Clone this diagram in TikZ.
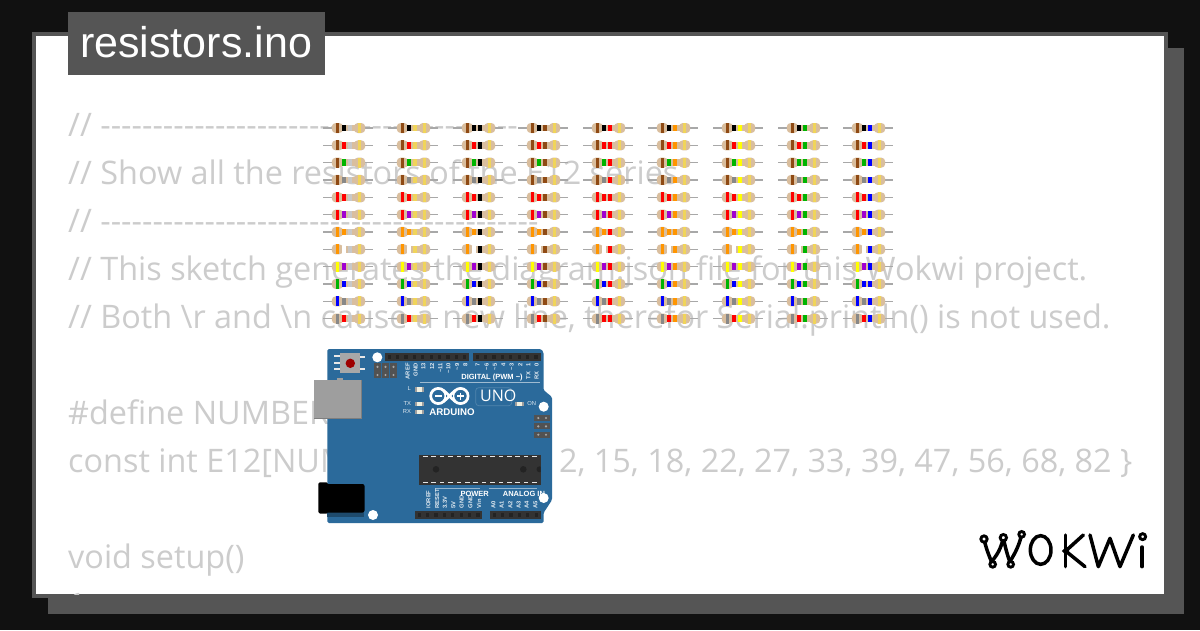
\documentclass[tikz,border=0pt]{standalone}
\usepackage{fontspec}
\newfontfamily\codefont{Open Sans}
\newfontfamily\boardfont{Liberation Sans}
\usetikzlibrary{calc}
\definecolor{bgdark}{HTML}{111111}
\definecolor{cardgray}{HTML}{555555}
\definecolor{codegray}{HTML}{CCCCCC}
\definecolor{resbody}{HTML}{D9BE9E}
\definecolor{lead}{HTML}{A8A8A8}
\definecolor{bBrown}{HTML}{8F4A14}
\definecolor{bBlack}{HTML}{000000}
\definecolor{bRed}{HTML}{FF0000}
\definecolor{bOrange}{HTML}{FF9500}
\definecolor{bYellow}{HTML}{FFFF00}
\definecolor{bGreen}{HTML}{00B400}
\definecolor{bBlue}{HTML}{0000FF}
\definecolor{bViolet}{HTML}{A000D0}
\definecolor{bGray}{HTML}{888888}
\definecolor{bWhite}{HTML}{FFFFFF}
\definecolor{bSilver}{HTML}{C8C8C8}
\definecolor{bGold}{HTML}{F0D45A}
\definecolor{boardblue}{HTML}{2B6A9B}
\definecolor{headerdark}{HTML}{333333}
\definecolor{pindark}{HTML}{232323}
\definecolor{usbgray}{HTML}{9E9E9E}
\definecolor{usbedge}{HTML}{7E7E7E}
\definecolor{ledcream}{HTML}{F2F0E0}
\tikzset{
 codeline/.style={anchor=base west,inner sep=0pt,text=codegray,font=\codefont\fontsize{32.4}{38}\selectfont},
 pinlab/.style={inner sep=0pt,text=white,font=\boardfont\bfseries\fontsize{5.8}{6}\selectfont,opacity=.88},
 uplab/.style={pinlab,rotate=90},
 headlab/.style={inner sep=0pt,text=white,font=\boardfont\bfseries\fontsize{7.5}{8}\selectfont},
 ledlab/.style={inner sep=0pt,text=white,font=\boardfont\fontsize{5.8}{6}\selectfont,opacity=.85},
 logoline/.style={line width=3.5pt,line cap=round,line join=round,draw=black},
 logodot/.style={line width=2.9pt,draw=black,fill=white},
}
\newcommand{\ledmark}[2]{%
 \fill[usbgray] (#1-.8,#2-2.2) rectangle (#1+8.6,#2+2.2);
 \fill[ledcream] (#1+1.2,#2-2.2) rectangle (#1+6.6,#2+2.2);}
\begin{document}
\begin{tikzpicture}[x=1pt,y=-1pt]
\useasboundingbox (0,0) rectangle (1200,630);
\fill[bgdark] (0,0) rectangle (1200,630);
\fill[cardgray] (48,48) rectangle (1184,614);
\fill[cardgray] (32,32) rectangle (1168,598);
\fill[white] (36,36) rectangle (1164,594);
% code text, clipped by the card
\begin{scope}
\clip (36,36) rectangle (1164,594);
\node[codeline] (l1) at (68,136) {// ----------------------------------------};
\node[codeline] (l2) at (68,184) {// Show all the resistors of the E12 series};
\node[codeline] (l3) at (68,232) {// ------------------------------------------};
\node[codeline] (l4) at (68,280) {// This sketch generates the diagram.json file for this Wokwi project.};
\node[codeline] (l5) at (68,328) {// Both \textbackslash r and \textbackslash n cause a new line, therefor Serial.println() is not used.};
\node[codeline] (l6) at (68,424) {\#define NUMBER 12};
\node[codeline] (l7) at (68,472) {const int E12[NUMBER]\hspace{12pt} = \{ 10, 12, 15, 18, 22, 27, 33, 39, 47, 56, 68, 82 \}};
\node[codeline] (l8) at (68,568) {void setup()};
\node[codeline] (l9) at (68,616) {\{};
\end{scope}
% title tab
\fill[cardgray] (68,12) rectangle (325,75);
\node[anchor=base west,inner sep=0pt,text=white,font=\boardfont\fontsize{43}{46}\selectfont] (title) at (80,57) {resistors.ino};
% resistors
\foreach \cx/\bc in {348/bSilver,413/bGold,478/bBlack,543/bBrown,608/bRed,673/bOrange,738/bYellow,803/bGreen,868/bBlue}{
 \foreach \ry/\ba/\bb in {0/bBrown/bBlack,1/bBrown/bRed,2/bBrown/bGreen,3/bBrown/bGray,4/bRed/bRed,5/bRed/bViolet,6/bOrange/bOrange,7/bOrange/bWhite,8/bYellow/bViolet,9/bGreen/bBlue,10/bBlue/bGray,11/bGray/bRed}{
  \pgfmathsetmacro{\cy}{128+17.33*\ry}
  \begin{scope}[shift={(\cx,\cy)}]
   \draw[lead,line width=1.5pt] (-25,0) -- (25,0);
   \fill[resbody,rounded corners=3.8pt] (-16.2,-5) rectangle (-5,5);
   \fill[resbody,rounded corners=3.8pt] (6,-5) rectangle (17.2,5);
   \fill[resbody] (-7,-3.4) rectangle (8,3.4);
   \fill[\ba] (-12.3,-4.9) rectangle (-8.6,4.9);
   \fill[\bb] (-6,-3.4) rectangle (-2.3,3.4);
   \fill[\bc] (0,-3.4) rectangle (3.7,3.4);
   \fill[bGold] (9.7,-4.9) rectangle (13.3,4.9);
  \end{scope}
 }
}
% board
\fill[boardblue,rounded corners=1.5pt] (327.3,349) -- (541,349) -- (543.5,352) -- (543.5,390) -- (552,397) -- (552,500) -- (543.5,513) -- (543.5,523) -- (327.3,523) -- cycle;
\fill[white] (377.3,357.3) circle (5);
\fill[white] (543.7,406.7) circle (5);
\fill[white] (373,515) circle (5);
\fill[white] (543.7,498) circle (5);
% headers
\fill[headerdark] (385,353.3) rectangle (469,360.7);
\fill[headerdark] (473,353.3) rectangle (540.7,360.7);
\fill[headerdark] (415,511) rectangle (482.3,519);
\fill[headerdark] (490,511) rectangle (540.7,519);
\foreach \i in {0,...,9}{\fill[pindark] (389.2+8.4*\i-1.6,355.4) rectangle ++(3.2,3.2);}
\foreach \i in {0,...,7}{\fill[pindark] (477.2+8.4*\i-1.6,355.4) rectangle ++(3.2,3.2);}
\foreach \i in {0,...,7}{\fill[pindark] (419.2+8.4*\i-1.6,513.4) rectangle ++(3.2,3.2);}
\foreach \i in {0,...,5}{\fill[pindark] (494.2+8.4*\i-1.6,513.4) rectangle ++(3.2,3.2);}
% ICSP
\foreach \i in {0,1,2}{
 \fill[headerdark!85!white] (374.3+8*\i,363.3) rectangle ++(6.4,15);
 \fill[lead] (377.5+8*\i,366.8) circle (1.2);
 \fill[lead] (377.5+8*\i,375) circle (1.2);
 \fill[headerdark!85!white] (534,415+8.35*\i) rectangle ++(16,6);
 \fill[lead] (538.3,418+8.35*\i) circle (1.2);
 \fill[lead] (546,418+8.35*\i) circle (1.2);
}
% reset
\foreach \yy in {356,362.5,369}{\fill[white!82!gray] (334,\yy-1) rectangle (340,\yy+1);}
\foreach \yy in {356.8,369}{\fill[white!82!gray] (360,\yy-1) rectangle (365,\yy+1);}
\fill[usbgray!90!white] (340,353.3) rectangle (360,373.3);
\fill[red!62!black] (350.3,363.3) circle (4.7);
% usb
\fill[usbgray] (337,377.5) rectangle (343,382);
\fill[usbedge] (314,380) rectangle (362,419);
\fill[usbgray] (314,380) rectangle (361,418);
% jack
\fill[boardblue!70!black] (327.3,505) rectangle (364,517);
\fill[black,rounded corners=1.5pt] (318.3,482.3) rectangle (328,513.5);
\fill[black,rounded corners=2pt] (326,484) rectangle (364.5,512.5);
% chip
\fill[headerdark] (419,455) rectangle (540.7,485);
\foreach \i in {0,...,13}{
 \fill[white!80!gray] (423+8.4*\i,456) rectangle ++(4.6,1.4);
 \fill[white!80!gray] (423+8.4*\i,482) rectangle ++(4.6,1.4);
}
\fill[pindark] (436,469.3) circle (3.3);
\fill[pindark] (523.3,469.3) circle (3.3);
\begin{scope}
 \clip (419,455) rectangle (540.7,485);
 \fill[pindark] (539.5,469.3) circle (3);
\end{scope}
% top labels
\foreach \xx/\tt in {407.7/AREF,415.7/GND,423.3/13,432/12,440.3/\textasciitilde11,448.3/\textasciitilde10,457/\textasciitilde9,465.3/8,477.7/7,486.7/\textasciitilde6,495/\textasciitilde5,503.3/4,511.7/\textasciitilde3,520.3/2,528.3/1,536.7/0}{
 \node[uplab,anchor=east] at (\xx,363.2) {\tt};
}
\node[uplab,anchor=east] (txl) at (528.3,371.5) {TX};
\node[uplab,anchor=east] (rxl) at (536.7,371.5) {RX};
\node[headlab,anchor=center] (dig) at (492,377.8) {DIGITAL (PWM \textasciitilde)};
\draw[white,opacity=.55,line width=.9pt] (420,382.4) -- (540,382.4);
% leds
\node[ledlab] (lL) at (409.3,388.5) {L};
\node[ledlab] (lT) at (407.3,403.4) {TX};
\node[ledlab] (lR) at (407,411.4) {RX};
\node[ledlab] (lO) at (531.7,403.8) {ON};
\ledmark{415.6}{389.5}
\ledmark{415.6}{404}
\ledmark{415.6}{411.7}
\ledmark{515.6}{404}
% logo
\draw[boardblue!82!white,line width=.7pt,rounded corners=3pt] (475.7,387.7) rectangle (511.7,405.7);
\node[inner sep=0pt,text=white,font=\codefont\fontsize{16}{17}\selectfont] (uno) at (498.3,395.4) {UNO};
\draw[white,line width=2.7pt] (438.3,396) circle (7.6) (460.5,396) circle (7.6);
\fill[boardblue] (445.8,391.3) rectangle (453,400.7);
\draw[white,line width=2.7pt] (443.6,390.5) .. controls (447,393) and (451.8,399) .. (455.2,401.5);
\draw[white,line width=2.7pt] (443.6,401.5) .. controls (447,399) and (451.8,393) .. (455.2,390.5);
\draw[white,line width=1.3pt] (434.8,396) -- (441.8,396) (457,396) -- (464,396) (460.5,392.5) -- (460.5,399.5);
\node[inner sep=0pt,text=white,font=\boardfont\bfseries\fontsize{9.7}{10}\selectfont] (ard) at (452,411.8) {ARDUINO};
% bottom labels
\foreach \xx/\tt in {428.3/IOREF,437/RESET,445/3.3V,453.3/5V,461.7/GND,470.3/GND,479/Vin,493.3/A0,501.7/A1,510.3/A2,518.7/A3,526.7/A4,535.3/A5}{
 \node[uplab,anchor=west] at (\xx,508.5) {\tt};
}
\draw[white,opacity=.5,line width=.8pt] (435,488.3) -- (480,488.3) (489.3,488.3) -- (536.7,488.3);
\node[headlab] (pow) at (474.7,493.5) {POWER};
\node[headlab,anchor=west] (ana) at (502.7,493.5) {ANALOG IN};
% wokwi logo
\begin{scope}[shift={(970,525)},x=0.3333pt,y=-0.3333pt]
 \draw[logoline] (42,42) .. controls (48,70) and (58,95) .. (68,118);
 \draw[logoline] (68,106) .. controls (80,90) and (92,75) .. (100,38);
 \draw[logoline] (100,38) .. controls (106,70) and (114,95) .. (122,118);
 \draw[logoline] (122,106) .. controls (135,85) and (148,60) .. (155,28);
 \draw[logodot] (42,42) circle (9.5);
 \draw[logodot] (68,118) circle (8.5);
 \draw[logodot] (100,38) circle (9.5);
 \draw[logodot] (122,118) circle (8.5);
 \draw[logodot] (155,28) circle (8.5);
 \draw[logoline] (212,75) ellipse (31 and 43);
 \draw[logoline] (287,30) -- (287,125);
 \draw[logoline] (340,30) -- (287,78) -- (345,125);
 \draw[logodot] (287,78) circle (5);
 \draw[logoline] (360,30) -- (385,125) -- (420,40) -- (450,125) -- (490,30);
 \draw[logoline] (516,66) -- (516,125);
 \draw[logodot] (518,35) circle (9);
\end{scope}
\end{tikzpicture}
\end{document}
